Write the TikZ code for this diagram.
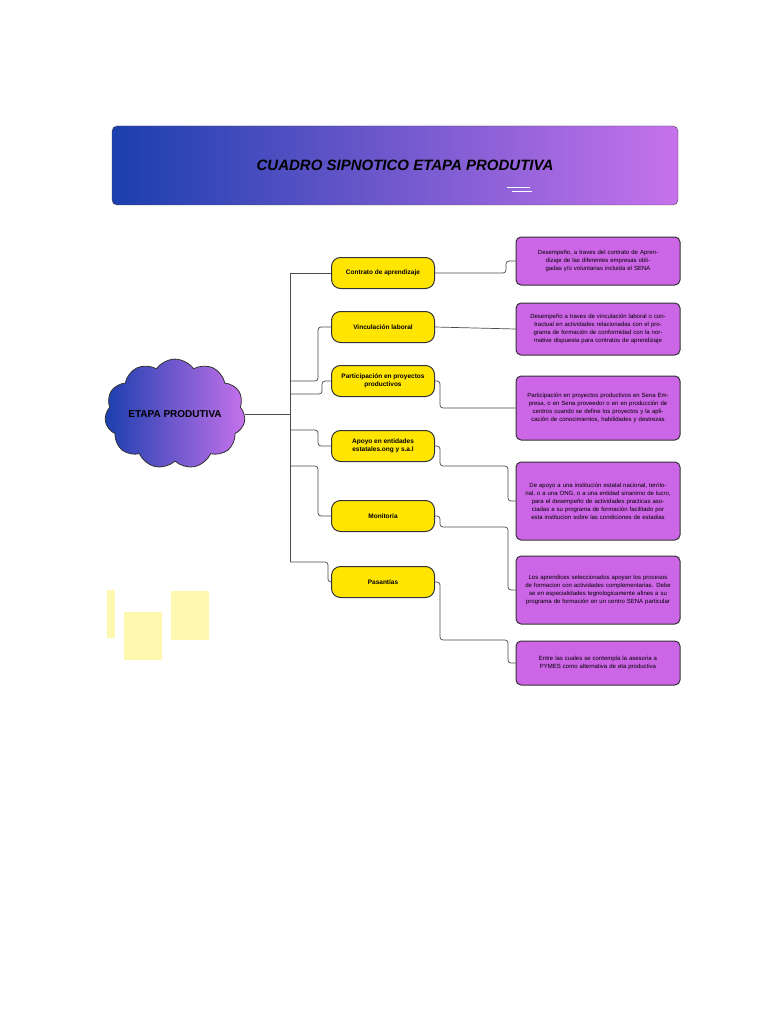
\documentclass[tikz,border=0pt]{standalone}
\usepackage{fontspec}
\setmainfont{Liberation Sans}
\usetikzlibrary{shapes.symbols}
\definecolor{bblue}{HTML}{1B3FAE}
\definecolor{bpurp}{HTML}{C672EC}
\definecolor{ylw}{HTML}{FFE500}
\definecolor{pbox}{HTML}{CC66E6}
\definecolor{pale}{HTML}{FFF8B0}
\begin{document}
\begin{tikzpicture}[x=1pt,y=-1pt,
  yb/.style={draw=black!80,line width=1pt,fill=ylw,rounded corners=9pt,minimum width=103pt,minimum height=31pt,align=center,font=\fontsize{6.5}{8}\selectfont\bfseries,inner sep=1pt},
  pb/.style={draw=black!80,line width=1pt,fill=pbox,rounded corners=5pt,text width=158pt,minimum width=164pt,align=center,font=\fontsize{6}{8}\selectfont,inner sep=3pt},
  ln/.style={draw=black!70,line width=0.7pt,rounded corners=3pt}]
\useasboundingbox (0,0) rectangle (768,1024);
\fill[white] (0,0) rectangle (768,1024);
% banner
\shade[left color=bblue,right color=bpurp,rounded corners=5pt,draw=black!70] (112,126) rectangle (678,205);
\node[font=\fontsize{15}{18}\selectfont\bfseries\itshape] (title) at (405,165) {CUADRO SIPNOTICO ETAPA PRODUTIVA};
\draw[white,line width=1pt] (507,188) -- (530,188) (512,192) -- (532,192);
% pale squares
\fill[pale] (107,590) rectangle (115,638);
\fill[pale] (124,612) rectangle (162,660);
\fill[pale] (171,591) rectangle (209,640);
% cloud
\node[cloud,cloud puffs=11,cloud puff arc=110,aspect=1.4,minimum width=136pt,minimum height=104pt,draw=black!80,line width=0.8pt,left color=bblue,right color=bpurp,font=\fontsize{10}{12}\selectfont\bfseries,inner sep=0pt] (cl) at (175,414) {ETAPA PRODUTIVA};
% yellow
\node[yb] (y1) at (383,273) {Contrato de aprendizaje};
\node[yb] (y2) at (383,327) {Vinculación laboral};
\node[yb] (y3) at (383,381) {Participación en proyectos\\productivos};
\node[yb] (y4) at (383,446) {Apoyo en entidades\\estatales.ong y s.a.l};
\node[yb] (y5) at (383,516) {Monitoría};
\node[yb] (y6) at (383,582) {Pasantías};
% purple
\node[pb,minimum height=48pt] (p1) at (598,261) {Desempeño, a traves del contrato de Aprendizaje de las diferentes empresas obligadas y/o voluntarias incluida el SENA};
\node[pb,minimum height=52pt] (p2) at (598,329) {Desempeño a traves de vinculación laboral o contractual en actividades relacionadas con el programa de formación de conformidad con la normative dispuesta para contratos de aprendizaje};
\node[pb,minimum height=64pt] (p3) at (598,408) {Participación en proyectos productivos en Sena Empresa, o en Sena proveedor o en en producción de centros cuando se define los proyectos y la aplicación de conocimientos, habilidades y destrezas};
\node[pb,minimum height=78pt] (p4) at (598,501) {De apoyo a una institución estatal nacional, territorial, o a una ONG, o a una entidad sinanimo de lucro, para el desempeño de actividades practicas asociadas a su programa de formación facilitado por esta institucion sobre las condiciones de estadias};
\node[pb,minimum height=68pt] (p5) at (598,590) {Los aprendices seleccionados apoyan los procesos de formacion con actividades complementarias. Debe se en especialidades tegnologicamente afines a su programa de formación en un centro SENA particular};
\node[pb,minimum height=44pt] (p6) at (598,663) {Entre las cuales se contempla la asesoria a PYMES como alternativa de eta productiva};
% trunk
\coordinate (t1) at (290,273);
\coordinate (t6) at (290,562);
\draw[ln] (cl.east |- 0,414) -- (290,414);
\draw[ln,rounded corners=0] (290,273) -- (290,562);
\draw[ln] (290,273) -- (y1.west);
\draw[ln] (290,381) -- (318,381) -- (318,327) -- (y2.west);
\draw[ln] (290,394) -- (322,394) -- (322,381) -- (y3.west);
\draw[ln] (290,430) -- (318,430) -- (318,446) -- (y4.west);
\draw[ln] (290,466) -- (318,466) -- (318,516) -- (y5.west);
\draw[ln] (290,562) -- (328,562) -- (328,582) -- (y6.west);
% right side
\draw[ln] (y1.east) -- (506,273) -- (506,261) -- (p1.west);
\draw[ln] (y2.east) -- (p2.west);
\draw[ln] (y3.east) -- (440,381) -- (440,408) -- (p3.west);
\draw[ln] (y4.east) -- (440,446) -- (440,466) -- (508,466) -- (508,501) -- (p4.west);
\draw[ln] (y5.east) -- (440,516) -- (440,527) -- (508,527) -- (508,590) -- (p5.west);
\draw[ln] (y6.east) -- (440,582) -- (440,640) -- (508,640) -- (508,663) -- (p6.west);
\end{tikzpicture}
\end{document}
